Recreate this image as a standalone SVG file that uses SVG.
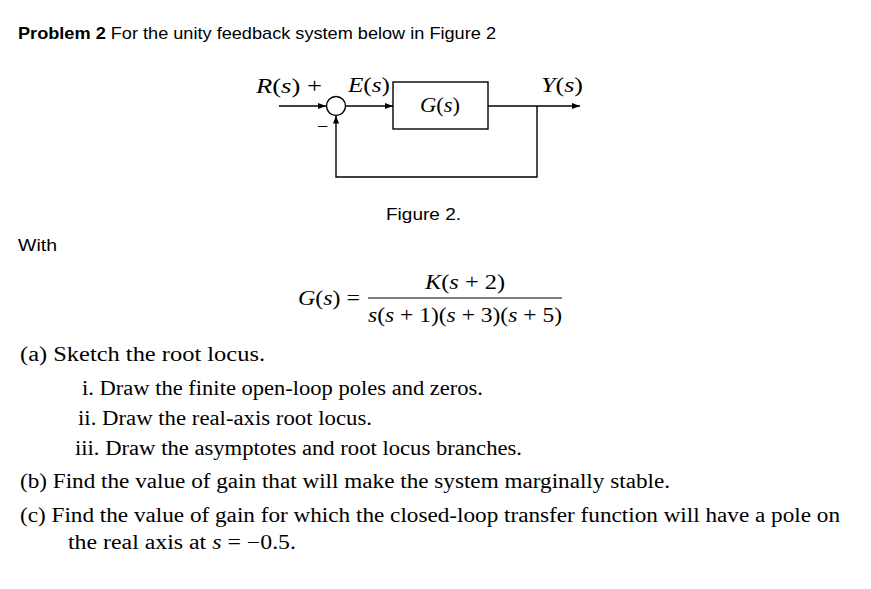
<svg xmlns="http://www.w3.org/2000/svg" width="871" height="589" viewBox="0 0 871 589">
<style>
.s{font-family:"Liberation Sans",sans-serif;font-size:17px;fill:#000}
.m{font-family:"Liberation Serif",serif;font-size:20px;fill:#000}
.i{font-style:italic}
.l{stroke:#000;stroke-width:1.4;fill:none}
</style>
<defs><marker id="a" markerWidth="8" markerHeight="6" refX="8" refY="3" orient="auto" markerUnits="userSpaceOnUse"><path d="M0,0L8,3L0,6z"/></marker></defs>
<rect width="871" height="589" fill="#fff"/>
<text class="s" x="18" y="39" textLength="478" lengthAdjust="spacingAndGlyphs"><tspan font-weight="bold">Problem 2</tspan> For the unity feedback system below in Figure 2</text>
<g id="sum"><circle class="l" cx="336" cy="106" r="9.5"/></g>
<g id="G"><rect class="l" x="393" y="82" width="95" height="47"/><text class="m" x="440" y="112" text-anchor="middle" textLength="40" lengthAdjust="spacingAndGlyphs"><tspan class="i">G</tspan>(<tspan class="i">s</tspan>)</text></g>
<g id="connectors">
<path class="l" d="M279,106H326" marker-end="url(#a)"/>
<path class="l" d="M345.5,106H393" marker-end="url(#a)"/>
<path class="l" d="M488,106H580" marker-end="url(#a)"/>
<path class="l" d="M537,106V177H336V115.5" marker-end="url(#a)"/>
</g>
<g id="labels">
<text class="m" x="256" y="93" textLength="66" lengthAdjust="spacingAndGlyphs"><tspan class="i">R</tspan>(<tspan class="i">s</tspan>) +</text>
<text class="m" x="348" y="92" textLength="42" lengthAdjust="spacingAndGlyphs"><tspan class="i">E</tspan>(<tspan class="i">s</tspan>)</text>
<text class="m" x="541" y="92" textLength="42" lengthAdjust="spacingAndGlyphs"><tspan class="i">Y</tspan>(<tspan class="i">s</tspan>)</text>
<text class="m" x="317" y="133">−</text>
</g>
<text class="s" x="386" y="220" textLength="75" lengthAdjust="spacingAndGlyphs">Figure 2.</text>
<text class="s" x="18" y="251" textLength="39" lengthAdjust="spacingAndGlyphs">With</text>
<text class="m" x="298" y="305" textLength="62" lengthAdjust="spacingAndGlyphs"><tspan class="i">G</tspan>(<tspan class="i">s</tspan>) =</text>
<text class="m" x="425" y="289" textLength="80" lengthAdjust="spacingAndGlyphs"><tspan class="i">K</tspan>(<tspan class="i">s</tspan> + 2)</text>
<line x1="368" y1="298" x2="562" y2="298" stroke="#000" stroke-width="1.2"/>
<text class="m" x="368" y="322" textLength="194" lengthAdjust="spacingAndGlyphs"><tspan class="i">s</tspan>(<tspan class="i">s</tspan> + 1)(<tspan class="i">s</tspan> + 3)(<tspan class="i">s</tspan> + 5)</text>
<text class="m" x="20" y="361" textLength="245" lengthAdjust="spacingAndGlyphs">(a) Sketch the root locus.</text>
<text class="m" x="82" y="395" textLength="401" lengthAdjust="spacingAndGlyphs">i. Draw the finite open-loop poles and zeros.</text>
<text class="m" x="78" y="425" textLength="294" lengthAdjust="spacingAndGlyphs">ii. Draw the real-axis root locus.</text>
<text class="m" x="75" y="455" textLength="447" lengthAdjust="spacingAndGlyphs">iii. Draw the asymptotes and root locus branches.</text>
<text class="m" x="20" y="488" textLength="650" lengthAdjust="spacingAndGlyphs">(b) Find the value of gain that will make the system marginally stable.</text>
<text class="m" x="20" y="522" textLength="820" lengthAdjust="spacingAndGlyphs">(c) Find the value of gain for which the closed-loop transfer function will have a pole on</text>
<text class="m" x="68" y="549" textLength="228" lengthAdjust="spacingAndGlyphs">the real axis at <tspan class="i">s</tspan> = −0.5.</text>
</svg>
